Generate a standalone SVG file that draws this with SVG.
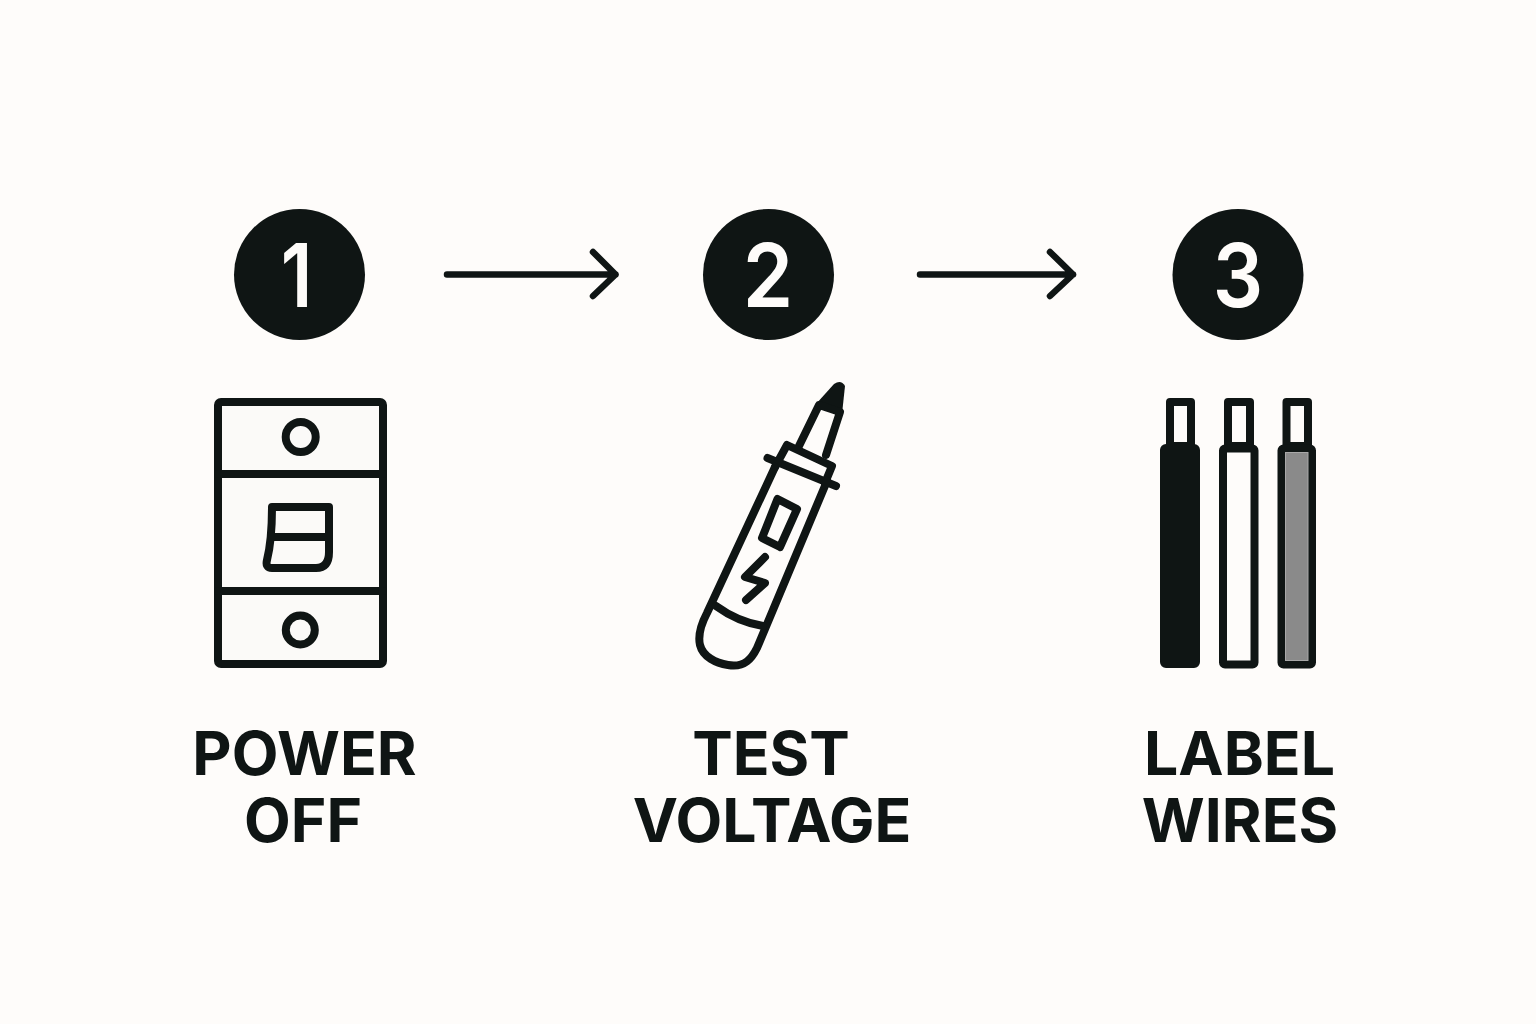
<svg xmlns="http://www.w3.org/2000/svg" width="1536" height="1024" viewBox="0 0 1536 1024">
<style>
.s{fill:none;stroke:#0f1514;stroke-width:8;stroke-linecap:round;stroke-linejoin:round}
.a{fill:none;stroke:#0f1514;stroke-width:6.500;stroke-linecap:round;stroke-linejoin:round}
.c{fill:#0f1514}
.n{font-family:Inter,"Liberation Sans",sans-serif;font-weight:600;font-size:88px;fill:#fefcfa;text-anchor:middle}
.t{font-family:Inter,"Liberation Sans",sans-serif;font-weight:700;font-size:60.700px;fill:#0f1514;text-anchor:middle}
</style>
<rect width="1536" height="1024" fill="#fefcfa"/>
<g id="connectors">
<path class="a" d="M447 274.500H615.500M593 252L615.500 274.500L593 296"/>
<path class="a" d="M920 274.500H1073M1050 252L1073 274.500L1050 296"/>
</g>
<g id="step1">
<circle class="c" cx="299.500" cy="274.500" r="65.500"/>
<text class="n" transform="translate(296.500 307) scale(.85 1)">1</text>
<rect class="s" x="218" y="402" width="165" height="262" rx="3" style="fill:#fbfaf8"/>
<path class="s" d="M218 474H383M218 591H383"/>
<circle class="s" cx="300.700" cy="437" r="15"/>
<circle class="s" cx="300.300" cy="630" r="14.500"/>
<path class="s" d="M272 507H329V552Q329 568 316 568H272Q265 568 267 560Q272 540 272 507ZM272 537H329"/>
<text class="t" x="304.500" y="775">POWER</text>
<text class="t" x="303" y="842">OFF</text>
</g>
<g id="step2">
<circle class="c" cx="768.500" cy="274.500" r="65.500"/>
<text class="n" transform="translate(768 307) scale(.92 1)">2</text>
<path class="c" d="M816 404L834 384Q841 379 845 386L842 414L822 408Z"/>
<path class="s" d="M799 446L819 405L840 412L826 455"/>
<path class="s" d="M767.500 458L836 486"/>
<path class="s" d="M775 467L787 445L832 466L825 483"/>
<path class="s" d="M775 467L707 613Q697 632 700 645C703 657 716 663 728 665C745 668 752 658 757 648L827 481"/>
<path class="s" d="M777.500 499L797 509L780 547L762 538Z"/>
<path class="s" d="M765 557L745 577L765 583L746 600"/>
<path class="s" d="M716 606Q738 622 763 626"/>
<text class="t" x="771" y="775">TEST</text>
<text class="t" x="772" y="842">VOLTAGE</text>
</g>
<g id="step3">
<circle class="c" cx="1238" cy="274.500" r="65.500"/>
<text class="n" transform="translate(1238 307) scale(.9 1)">3</text>
<rect class="s" x="1170" y="402" width="21" height="44"/>
<rect class="s" x="1164" y="448" width="32" height="216" rx="2" style="fill:#0f1514"/>
<rect class="s" x="1228" y="402" width="22" height="44"/>
<rect class="s" x="1223" y="448.500" width="31.500" height="216" rx="2"/>
<rect class="s" x="1286.500" y="402" width="21.500" height="44"/>
<rect class="s" x="1281.500" y="448.500" width="30.500" height="216" rx="2" style="fill:#8a8a8a"/>
<rect x="1285.500" y="452.500" width="22.500" height="208" fill="none" stroke="#a8a8a8" stroke-width="1"/>
<text class="t" x="1239.500" y="775">LABEL</text>
<text class="t" x="1240" y="842">WIRES</text>
</g>
</svg>
